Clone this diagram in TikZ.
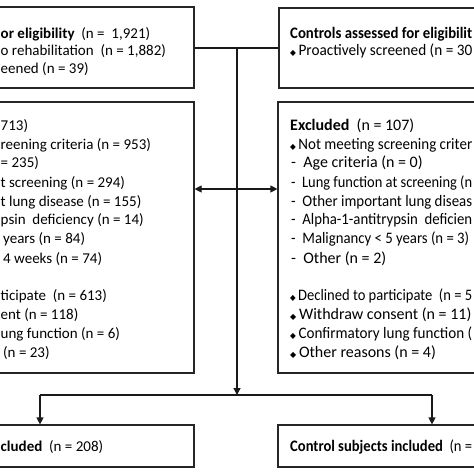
\documentclass[tikz,border=0pt]{standalone}
\usepackage{graphicx}
\usepackage{fontspec}
\setmainfont{Carlito}
\newfontfamily\symfont{DejaVu Sans}
\usetikzlibrary{arrows.meta}
\newcommand{\dia}{{\symfont\fontsize{8}{8}\selectfont ◆}\,}
\newcommand{\fitw}[1]{\resizebox{182pt}{\height}{#1}}
\tikzset{
  box/.style={draw=black!85, line width=1.2pt, inner sep=0, fill=white},
  lt/.style={inner sep=0, anchor=base west, font=\fontsize{15}{19}\selectfont},
  rt/.style={inner sep=0, anchor=base west, font=\fontsize{16}{19}\selectfont},
  conn/.style={draw=black!90, line width=1.2pt},
  arr/.style={conn, -{Triangle[length=7pt,width=7pt]}}
}
\begin{document}
\begin{tikzpicture}[x=1pt,y=-1pt]
\useasboundingbox (0,0) rectangle (474,474);
\fill[white] (0,0) rectangle (474,474);
\clip (0,0) rectangle (474,474);
% boxes
\node[box, minimum width=254, minimum height=81] (pa) at (67,47.5) {};
\node[box, minimum width=254, minimum height=80] (ca) at (406,48) {};
\node[box, minimum width=254, minimum height=271] (pe) at (67,237.5) {};
\node[box, minimum width=254, minimum height=271] (ce) at (405,237.5) {};
\node[box, minimum width=254, minimum height=42] (pi) at (67,446) {};
\node[box, minimum width=254, minimum height=42] (ci) at (405,446) {};
% connectors
\coordinate (t) at (237,48);
\coordinate (b) at (237,189);
\coordinate (m) at (237,395);
\coordinate (bl) at (40,395);
\coordinate (br) at (432,395);
\draw[conn] (pa.east |- t) -- (ca.west |- t);
\draw[arr] (t) -- (m);
\draw[arr] (b) -- (b -| pe.east);
\draw[arr] (b) -- (b -| ce.west);
\draw[conn] (bl) -- (br);
\draw[arr] (bl) -- (bl |- pi.north);
\draw[arr] (br) -- (br |- ci.north);
% left top texts
\node[lt] (l1) at (0.5,38) {\textbf{or eligibility}\ \ (n =\ \ 1,921)};
\node[lt] (l2) at (0.5,55) {o rehabilitation\ \ (n = 1,882)};
\node[lt] (l3) at (0.5,73) {eened (n = 39)};
% left middle texts
\node[lt] (m1) at (0.5,130) {713)};
\node[lt] (m2) at (0.5,149) {reening criteria (n = 953)};
\node[lt] (m3) at (0.5,167) {= 235)};
\node[lt] (m4) at (0.5,187) {t screening (n = 294)};
\node[lt] (m5) at (0.5,206) {t lung disease (n = 155)};
\node[lt] (m6) at (0.5,224) {psin\ \ deficiency (n = 14)};
\node[lt] (m7) at (3,243) {years (n = 84)};
\node[lt] (m8) at (3,263) {4 weeks (n = 74)};
\node[lt] (m9) at (0.5,300) {ticipate\ \ (n = 613)};
\node[lt] (m10) at (0.5,319) {ent (n = 118)};
\node[lt] (m11) at (0.5,338) {ung function (n = 6)};
\node[lt] (m12) at (3,357) {(n = 23)};
% left bottom
\node[lt] (b1) at (0.5,451) {\textbf{cluded}\ \ (n = 208)};
% right top
\node[rt] (r1) at (290,38) {\fitw{\textbf{Controls assessed for eligibilit}}};
\node[rt] (r2) at (290,55) {\fitw{\dia Proactively screened (n = 30}};
% right middle
\node[rt] (c1) at (290,130) {\textbf{Excluded}\ \ (n = 107)};
\node[rt] (c2) at (290,149) {\fitw{\dia Not meeting screening criter}};
\node[rt] (c3) at (291,167) {-\ \ Age criteria (n = 0)};
\node[rt] (c4) at (291,187) {\resizebox{181pt}{\height}{-\ \ Lung function at screening (n}};
\node[rt] (c5) at (291,206) {\resizebox{181pt}{\height}{-\ \ Other important lung diseas}};
\node[rt] (c6) at (291,224) {\resizebox{181pt}{\height}{-\ \ Alpha-1-antitrypsin\ \ deficien}};
\node[rt] (c7) at (291,243) {\resizebox{178pt}{\height}{-\ \ Malignancy < 5 years (n = 3)}};
\node[rt] (c8) at (291,263) {-\ \ Other (n = 2)};
\node[rt] (c9) at (290,300) {\fitw{\dia Declined to participate\ \ (n = 5}};
\node[rt] (c10) at (290,319) {\dia Withdraw consent (n = 11)};
\node[rt] (c11) at (290,338) {\fitw{\dia Confirmatory\ lung function (}};
\node[rt] (c12) at (290,357) {\dia Other reasons (n = 4)};
% right bottom
\node[rt] (d1) at (290,451) {\fitw{\textbf{Control subjects included}\ \ (n =}};
\end{tikzpicture}
\end{document}
